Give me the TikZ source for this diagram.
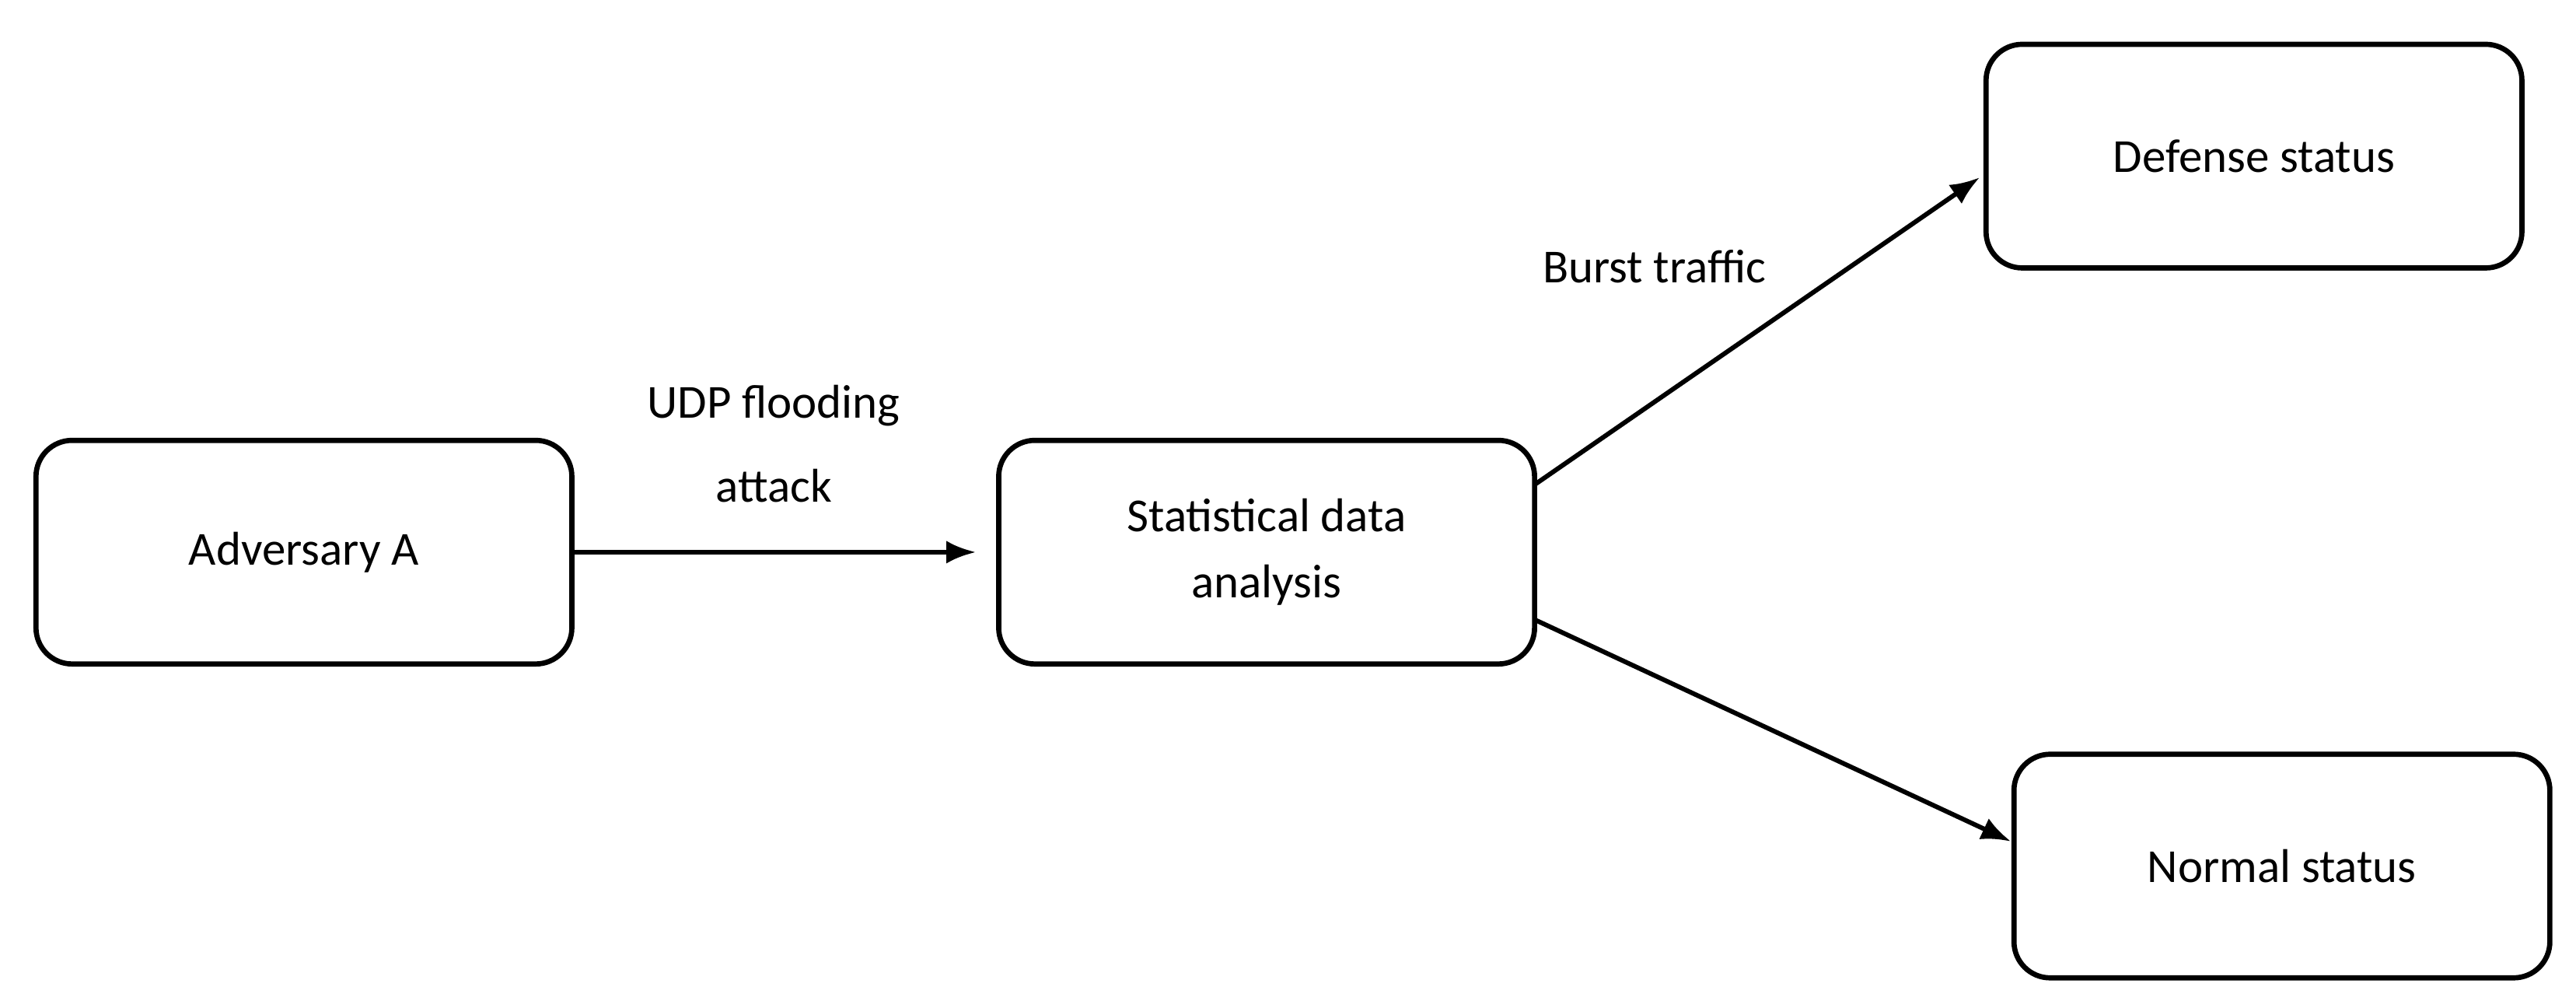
\documentclass[tikz,border=0pt]{standalone}
\usepackage{fontspec}
\setmainfont{Carlito}
\usetikzlibrary{arrows.meta}
\begin{document}
\begin{tikzpicture}[x=0.01cm,y=-0.01cm,
  box/.style={draw,line width=0.9pt,rounded corners=0.22cm,minimum width=3.26cm,minimum height=1.36cm,align=center,font=\fontsize{8.2pt}{11.5pt}\selectfont},
  lbl/.style={align=center,font=\fontsize{8.2pt}{14.5pt}\selectfont},
  arr/.style={-{Latex[length=0.18cm,width=0.14cm]},line width=0.8pt}]
\useasboundingbox (0,0) rectangle (1568,609);
\node[box] (a) at (185,336) {Adversary A};
\node[box] (s) at (771,336) {Statistical data\\analysis};
\node[box] (d) at (1372,95) {Defense status};
\node[box] (n) at (1389,527) {Normal status};
\coordinate (aend) at (594,336);
\coordinate (dend) at (1205,108);
\coordinate (nend) at (1224,512);
\draw[arr] (a.east) -- (aend);
\draw[arr] (934,295) -- (dend);
\draw[arr] (934,377) -- (nend);
\node[lbl] (l1) at (471,270) {UDP flooding\\attack};
\node[lbl] (l2) at (1007,162) {Burst traffic};
\end{tikzpicture}
\end{document}
